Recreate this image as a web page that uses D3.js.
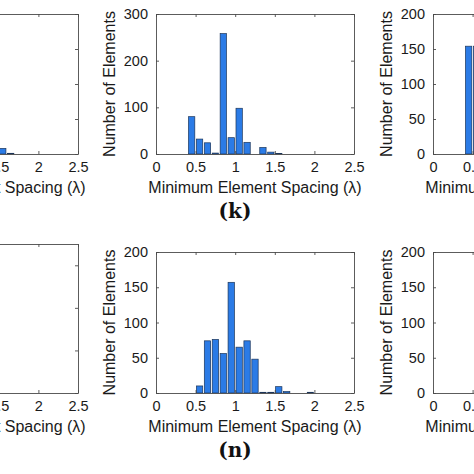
<!DOCTYPE html>
<html><head><meta charset="utf-8">
<script src="https://cdn.jsdelivr.net/npm/d3@7"></script>
<style>body{margin:0;background:#fff}svg{display:block}</style>
</head><body>
<svg id="c" width="474" height="474"></svg>
<script>
// ---- data ----
const xTicks = [0, 0.5, 1, 1.5, 2, 2.5];
const xTickLabels = ["0", "0.5", "1", "1.5", "2", "2.5"];
const xLabel = "Minimum Element Spacing (\u03BB)";
const yLabel = "Number of Elements";

// top-left (j) partially visible
const jCenters = [1.55, 1.65];
const jCounts = [8, 1];
// top-middle (k)
const kCenters = [0.45, 0.55, 0.65, 0.75, 0.85, 0.95, 1.05, 1.15, 1.35, 1.45, 1.55];
const kCounts = [80, 32, 24, 2, 258, 35, 98, 25, 14, 4, 1];
// top-right (l) partially visible
const lCenters = [0.45, 0.55];
const lCounts = [154, 154];
// bottom-middle (n)
const nCenters = [0.55, 0.65, 0.75, 0.85, 0.95, 1.05, 1.15, 1.25, 1.35, 1.45, 1.55, 1.65, 1.95];
const nCounts = [10, 74, 76, 56, 157, 65, 74, 48, 1, 1, 9, 2, 1];

const panelTitles = ["(k)", "(n)"];

const svg = d3.select("#c");
const BAR_W = 0.08;
const FONT = "'Liberation Sans', Arial, sans-serif";

function panel(o) {
  const x = d3.scaleLinear().domain([0, 2.5]).range([o.x0, o.x0 + 198]);
  const y = d3.scaleLinear().domain(o.yDomain).range([o.y1, o.y0]);
  const g = svg.append("g");
  const data = (o.centers || []).map((c, i) => ({c, v: o.counts[i]}));
  g.selectAll("rect").data(data).enter().append("rect")
    .attr("x", d => x(d.c - BAR_W / 2))
    .attr("width", d => x(d.c + BAR_W / 2) - x(d.c - BAR_W / 2))
    .attr("y", d => y(d.v))
    .attr("height", d => y(0) - y(d.v))
    .attr("fill", "#2b7be6")
    .attr("stroke", "#1c3559")
    .attr("stroke-width", 0.7);

  const col = "#4a4a4a";
  const ax = d3.axisBottom(x).tickValues(xTicks).tickSizeInner(-3).tickSizeOuter(0)
    .tickFormat((d, i) => xTickLabels[i]).tickPadding(8);
  const gx = g.append("g").attr("transform", `translate(0,${o.y1})`).call(ax);
  const gt = g.append("g").attr("transform", `translate(0,${o.y0})`)
    .call(d3.axisTop(x).tickValues(xTicks).tickSizeInner(-3).tickSizeOuter(0).tickFormat(""));
  const ay = d3.axisLeft(y).tickValues(o.yTicks).tickSizeInner(-3).tickSizeOuter(0).tickPadding(8);
  const gy = g.append("g").attr("transform", `translate(${o.x0},0)`).call(ay);
  const gr = g.append("g").attr("transform", `translate(${o.x0 + 198},0)`)
    .call(d3.axisRight(y).tickValues(o.yTicks).tickSizeInner(-3).tickSizeOuter(0).tickFormat(""));
  [gx, gt, gy, gr].forEach(a => {
    a.selectAll("path, line").attr("stroke", col).attr("stroke-width", 0.9);
    a.selectAll("text").attr("fill", "#1a1a1a")
      .style("font-family", FONT).style("font-size", "14.5px");
  });
  gx.selectAll("text").attr("dy", "0.68em");

  g.append("text")
    .attr("x", o.x0 + 99).attr("y", o.y1 + 39)
    .attr("text-anchor", "middle").attr("fill", "#1a1a1a")
    .style("font-family", FONT).style("font-size", "16px")
    .text(xLabel);
  g.append("text")
    .attr("transform", `translate(${o.x0 - 41},${(o.y0 + o.y1) / 2}) rotate(-90)`)
    .attr("text-anchor", "middle").attr("fill", "#1a1a1a")
    .style("font-family", FONT).style("font-size", "16px")
    .text(yLabel);
  if (o.title) {
    g.append("text").attr("x", o.x0 + 79).attr("y", o.y1 + 64)
      .attr("text-anchor", "middle").attr("fill", "#111")
      .style("font-family", "'DejaVu Serif', 'Liberation Serif', serif")
      .style("font-weight", "bold").style("font-size", "20px")
      .text(o.title);
  }
}

const y200 = [0, 50, 100, 150, 200];
panel({x0: -120, y0: 14, y1: 154, yDomain: [0, 200], yTicks: y200, centers: jCenters, counts: jCounts});
panel({x0: 156, y0: 14, y1: 154, yDomain: [0, 300], yTicks: [0, 100, 200, 300], centers: kCenters, counts: kCounts, title: panelTitles[0]});
panel({x0: 433, y0: 14, y1: 154, yDomain: [0, 200], yTicks: y200, centers: lCenters, counts: lCounts});
panel({x0: -120, y0: 244, y1: 393, yDomain: [0, 35], yTicks: [0, 10, 20, 30], centers: [], counts: []});
panel({x0: 156, y0: 252, y1: 393, yDomain: [0, 200], yTicks: y200, centers: nCenters, counts: nCounts, title: panelTitles[1]});
panel({x0: 433, y0: 252, y1: 393, yDomain: [0, 200], yTicks: y200, centers: [], counts: []});
</script>
</body></html>
